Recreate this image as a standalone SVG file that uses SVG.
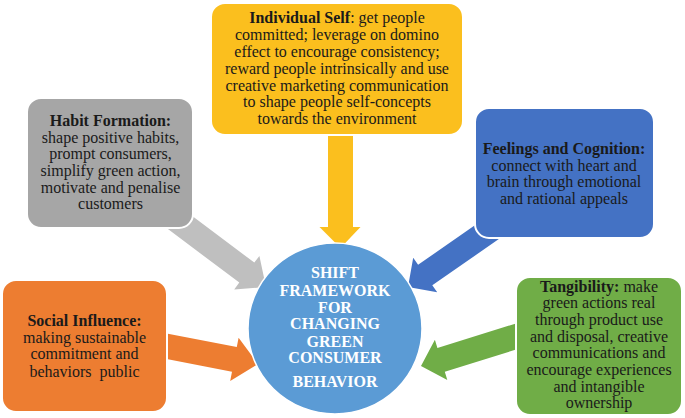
<svg xmlns="http://www.w3.org/2000/svg" width="685" height="418" viewBox="0 0 685 418">
<style>
text{font-family:"Liberation Serif","Times New Roman",serif;font-size:16px;fill:#1a1a1a;text-anchor:middle}
.b{font-weight:bold}
.c{fill:#ffffff;font-weight:bold}
.box{stroke:#ffffff;stroke-width:2}
</style>
<rect width="685" height="418" fill="#ffffff"/>
<g id="connectors">
<polygon fill="#FBBF1E" points="328,120 353,120 353,227 360.5,227 340.5,248 319.5,227 328,227"/>
<polygon fill="#BFBFBF" points="166.3,196.6 254.3,262.6 259.4,256 266,287 234.2,289.4 239.3,282.6 151.3,216.6"/>
<polygon fill="#4472C4" points="500,207.8 418.1,264.8 413.2,257.8 408,287 437.2,292.2 432.3,285.3 514.3,228.3"/>
<polygon fill="#ED7D31" points="148.4,330 236.8,347.1 238.6,337.8 258,364 230.2,381 232,371.7 143.6,354.6"/>
<polygon fill="#70AD47" points="532.9,318.2 437.4,347.9 434.9,339.7 421,366 447.3,379.9 444.8,371.7 540.3,342"/>
</g>
<g id="center">
<ellipse cx="335" cy="328.5" rx="87" ry="85.5" fill="#5B9BD5" stroke="#ffffff" stroke-width="1.5"/>
<text class="c" x="335" y="278.3">SHIFT</text>
<text class="c" x="335" y="296">FRAMEWORK</text>
<text class="c" x="335" y="312.7">FOR</text>
<text class="c" x="335" y="329.3">CHANGING</text>
<text class="c" x="335" y="346.7">GREEN</text>
<text class="c" x="335" y="363.3">CONSUMER</text>
<text class="c" x="335" y="386.7">BEHAVIOR</text>
</g>
<g id="individual-self">
<rect class="box" x="211" y="3" width="252" height="132" rx="14" fill="#FBBF1E"/>
<text x="337" y="23.3"><tspan class="b">Individual Self</tspan>: get people</text>
<text x="337" y="40">committed; leverage on domino</text>
<text x="337" y="56.7">effect to encourage consistency;</text>
<text x="337" y="74">reward people intrinsically and use</text>
<text x="337" y="90.7">creative marketing communication</text>
<text x="337" y="107.3">to shape people self-concepts</text>
<text x="337" y="124.3">towards the environment</text>
</g>
<g id="habit-formation">
<rect class="box" x="27" y="98" width="166" height="130" rx="14" fill="#A6A6A6"/>
<text class="b" x="110.5" y="125.7">Habit Formation:</text>
<text x="110.5" y="142.7">shape positive habits,</text>
<text x="110.5" y="159.3">prompt consumers,</text>
<text x="110.5" y="176">simplify green action,</text>
<text x="110.5" y="192.7">motivate and penalise</text>
<text x="110.5" y="209.3">customers</text>
</g>
<g id="feelings-cognition">
<rect class="box" x="475" y="108" width="179" height="130" rx="14" fill="#4472C4"/>
<text class="b" x="564" y="154">Feelings and Cognition:</text>
<text x="564" y="170.7">connect with heart and</text>
<text x="564" y="187.3">brain through emotional</text>
<text x="564" y="204">and rational appeals</text>
</g>
<g id="social-influence">
<rect class="box" x="2" y="280" width="165" height="132" rx="14" fill="#ED7D31"/>
<text class="b" x="84.5" y="326">Social Influence:</text>
<text x="84.5" y="342.7">making sustainable</text>
<text x="84.5" y="359.3">commitment and</text>
<text x="84.5" y="376.7" xml:space="preserve">behaviors  public</text>
</g>
<g id="tangibility">
<rect class="box" x="516" y="277" width="166" height="138" rx="14" fill="#70AD47"/>
<text x="599" y="291.7"><tspan class="b">Tangibility:</tspan> make</text>
<text x="599" y="308.3">green actions real</text>
<text x="599" y="325">through product use</text>
<text x="599" y="341.7">and disposal, creative</text>
<text x="599" y="358.3">communications and</text>
<text x="599" y="375">encourage experiences</text>
<text x="599" y="391.7">and intangible</text>
<text x="599" y="408.3">ownership</text>
</g>
</svg>
